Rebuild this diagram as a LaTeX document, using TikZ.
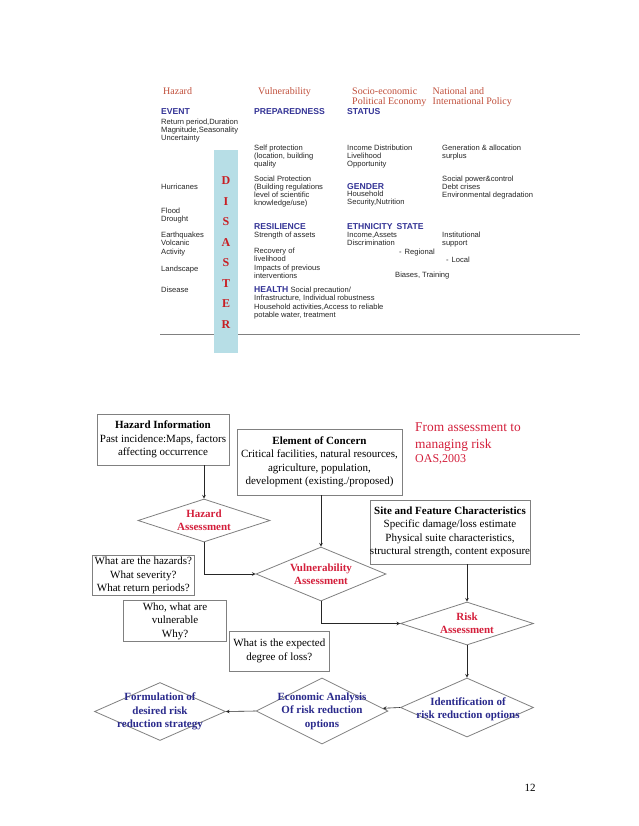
\documentclass[tikz,border=0pt]{standalone}
\usepackage{fontspec}
\setmainfont{Liberation Serif}
\setsansfont{Liberation Sans}
\usepackage{xcolor}
\usetikzlibrary{shapes.geometric, arrows, positioning, calc}
\definecolor{boxgray}{RGB}{128,128,128}
\definecolor{riskred}{RGB}{212,32,60}
\definecolor{optblue}{RGB}{42,42,140}
\definecolor{headred}{RGB}{192,78,58}
\definecolor{labelblue}{RGB}{52,52,150}
\definecolor{barblue}{RGB}{183,222,230}
\definecolor{barred}{RGB}{200,30,35}
\tikzstyle{tabtext} = [anchor=north west, inner sep=0pt, align=left, text=black!85, font=\sffamily\fontsize{7.6}{8.2}\selectfont]
\tikzstyle{tabhead} = [anchor=north west, inner sep=0pt, align=left, text=labelblue, font=\sffamily\bfseries\fontsize{8.6}{9}\selectfont]
\tikzstyle{colhead} = [anchor=north west, inner sep=0pt, align=left, text=headred, font=\fontsize{10}{10}\selectfont]
\tikzstyle{barletter} = [inner sep=0pt, text=barred, font=\bfseries\fontsize{12}{12}\selectfont]
\tikzstyle{infobox} = [rectangle, draw=boxgray, line width=0.8pt, align=center, inner sep=2pt, font=\fontsize{11}{13.4}\selectfont]
\tikzstyle{assess} = [diamond, draw=boxgray, line width=0.8pt, inner sep=0pt]
\tikzstyle{redlabel} = [align=center, inner sep=0pt, text=riskred, font=\bfseries\fontsize{11}{13.4}\selectfont]
\tikzstyle{bluelabel} = [align=center, inner sep=0pt, text=optblue, font=\bfseries\fontsize{11}{13.4}\selectfont]
\tikzstyle{arrow} = [->, >=stealth, line width=0.6pt, black!85]
\begin{document}
\begin{tikzpicture}[x=1pt, y=-1pt]
    \fill[white] (0,0) rectangle (638,826);
    \useasboundingbox (0,0) rectangle (638,826);

    % Column headers
    \node[colhead] (hhazard) at (163,87.5) {Hazard};
    \node[colhead] (hvuln) at (258,87.5) {Vulnerability};
    \node[colhead] (hsocio) at (352,87.5) {Socio-economic\\Political Economy};
    \node[colhead] (hnational) at (432.5,87.5) {National and\\International Policy};

    % Hazard column
    \node[tabhead] (event) at (161,108.6) {EVENT};
    \node[tabtext] (eventtxt) at (161,118.7) {Return period,Duration\\Magnitude,Seasonality\\Uncertainty};
    \node[tabtext] (hurricanes) at (161,183.7) {Hurricanes};
    \node[tabtext] (flood) at (161,207.7) {Flood\\Drought};
    \node[tabtext] (quakes) at (161,232) {Earthquakes\\Volcanic\\Activity};
    \node[tabtext] (landscape) at (161,265.3) {Landscape};
    \node[tabtext] (disease) at (161,287) {Disease};

    % Vulnerability column
    \node[tabhead] (prepared) at (254,108.6) {PREPAREDNESS};
    \node[tabtext] (selfprot) at (254,144.3) {Self protection\\(location, building\\quality};
    \node[tabtext] (socprot) at (254,175.3) {Social Protection\\(Building regulations\\level of scientific\\knowledge/use)};
    \node[tabhead] (resil) at (254,223.6) {RESILIENCE};
    \node[tabtext] (strength) at (254,232) {Strength of assets};
    \node[tabtext] (recovery) at (254,248) {Recovery of\\livelihood\\Impacts of previous\\interventions};
    \node[tabtext] (health) at (254,286.5) {{\bfseries\color{labelblue}\fontsize{8.6}{8.2}\selectfont HEALTH} Social precaution/\\Infrastructure, Individual robustness\\Household activities,Access to reliable\\potable water, treatment};

    % Socio-economic column
    \node[tabhead] (status) at (347,108.6) {STATUS};
    \node[tabtext] (income) at (347,144.3) {Income Distribution\\Livelihood\\Opportunity};
    \node[tabhead] (gender) at (347,183.6) {GENDER};
    \node[tabtext] (household) at (347,190.3) {Household\\Security,Nutrition};
    \node[tabhead] (ethnic) at (347,223.6) {ETHNICITY\hspace{4pt}STATE};
    \node[tabtext] (assets) at (347,232) {Income,Assets\\Discrimination};
    \node[tabtext] (regional) at (399,248.7) {-\hspace{3pt}Regional};
    \node[tabtext] (local) at (446,257) {-\hspace{3pt}Local};
    \node[tabtext] (biases) at (395,272) {Biases, Training};

    % National column
    \node[tabtext] (surplus) at (442,144.3) {Generation \& allocation\\surplus};
    \node[tabtext] (power) at (442,175.3) {Social power\&control\\Debt crises\\Environmental degradation};
    \node[tabtext] (support) at (442,232) {Institutional\\support};

    % Disaster bar
    \draw[boxgray, line width=0.8pt] (160,334) -- (580,334);
    \fill[barblue] (214,150) rectangle (238,353);
    \foreach \ch [count=\i from 0] in {D,I,S,A,S,T,E,R}
        \node[barletter] (bar\i) at (226,181+20.5*\i) {\ch};

    % Information boxes
    \node[infobox, minimum width=132, minimum height=51] (hazinfo) at (163,439.5) {\textbf{Hazard Information}\\Past incidence:Maps, factors\\affecting occurrence};
    \node[infobox, minimum width=165, minimum height=66] (element) at (319.5,462) {\textbf{Element of Concern}\\Critical facilities, natural resources,\\agriculture, population,\\development (existing./proposed)};
    \node[infobox, inner xsep=0pt, minimum width=155, minimum height=64] (site) at (450,532) {\textbf{Site and Feature Characteristics}\\Specific damage/loss estimate\\Physical suite characteristics,\\structural strength, content exposure};
    \node[anchor=north west, inner sep=0pt, align=left, text=riskred, font=\fontsize{13.4}{17.6}\selectfont] (title) at (415,422.2) {From assessment to\\managing risk};
    \node[anchor=base west, inner sep=0pt, text=riskred, font=\fontsize{12}{12}\selectfont] (source) at (415,462.3) {OAS,2003};

    % Questions
    \node[infobox, minimum width=100, minimum height=39] (hazq) at (143.3,575.5) {What are the hazards?\\What severity?\\What return periods?};
    \node[infobox, minimum width=103, minimum height=41] (vulq) at (175,621.3) {Who, what are\\vulnerable\\Why?};
    \node[infobox, minimum width=100, minimum height=40] (lossq) at (279.3,651) {What is the expected\\degree of loss?};

    % Assessment steps
    \node[assess, minimum width=132, minimum height=43] (hazass) at (204,520.5) {};
    \node[redlabel] (hazasstxt) at (hazass) {Hazard\\Assessment};
    \node[assess, minimum width=130, minimum height=54] (vulnass) at (321,574) {};
    \node[redlabel] (vulnasstxt) at (vulnass) {Vulnerability\\Assessment};
    \node[assess, minimum width=133, minimum height=43] (riskass) at (467,623.5) {};
    \node[redlabel] (riskasstxt) at (riskass) {Risk\\Assessment};

    % Risk reduction
    \node[assess, minimum width=133, minimum height=59] (idopt) at (467,707.5) {};
    \node[bluelabel] (idopttxt) at (468,709.3) {Identification of\\risk reduction options};
    \node[assess, minimum width=132, minimum height=66] (econ) at (322,711) {};
    \node[bluelabel] (econtxt) at (econ) {Economic Analysis\\Of risk reduction\\options};
    \node[assess, minimum width=131, minimum height=58] (form) at (160,711.5) {};
    \node[bluelabel] (formtxt) at (form) {Formulation of\\desired risk\\reduction strategy};

    % Connections
    \draw[arrow] (hazass.north |- hazinfo.south) -- (hazass.north);
    \draw[arrow] (vulnass.north |- element.south) -- (vulnass.north);
    \draw[arrow] (hazass.south) |- (vulnass.west);
    \draw[arrow] (riskass.north |- site.south) -- (riskass.north);
    \draw[arrow] (vulnass.south) |- (riskass.west);
    \draw[arrow] (riskass.south) -- (idopt.north);
    \draw[arrow] (idopt.west) -- (econ);
    \draw[arrow] (econ.west) -- (form.east);

    \node[font=\fontsize{11}{11}\selectfont] (pagenum) at (530,788) {12};
\end{tikzpicture}
\end{document}
